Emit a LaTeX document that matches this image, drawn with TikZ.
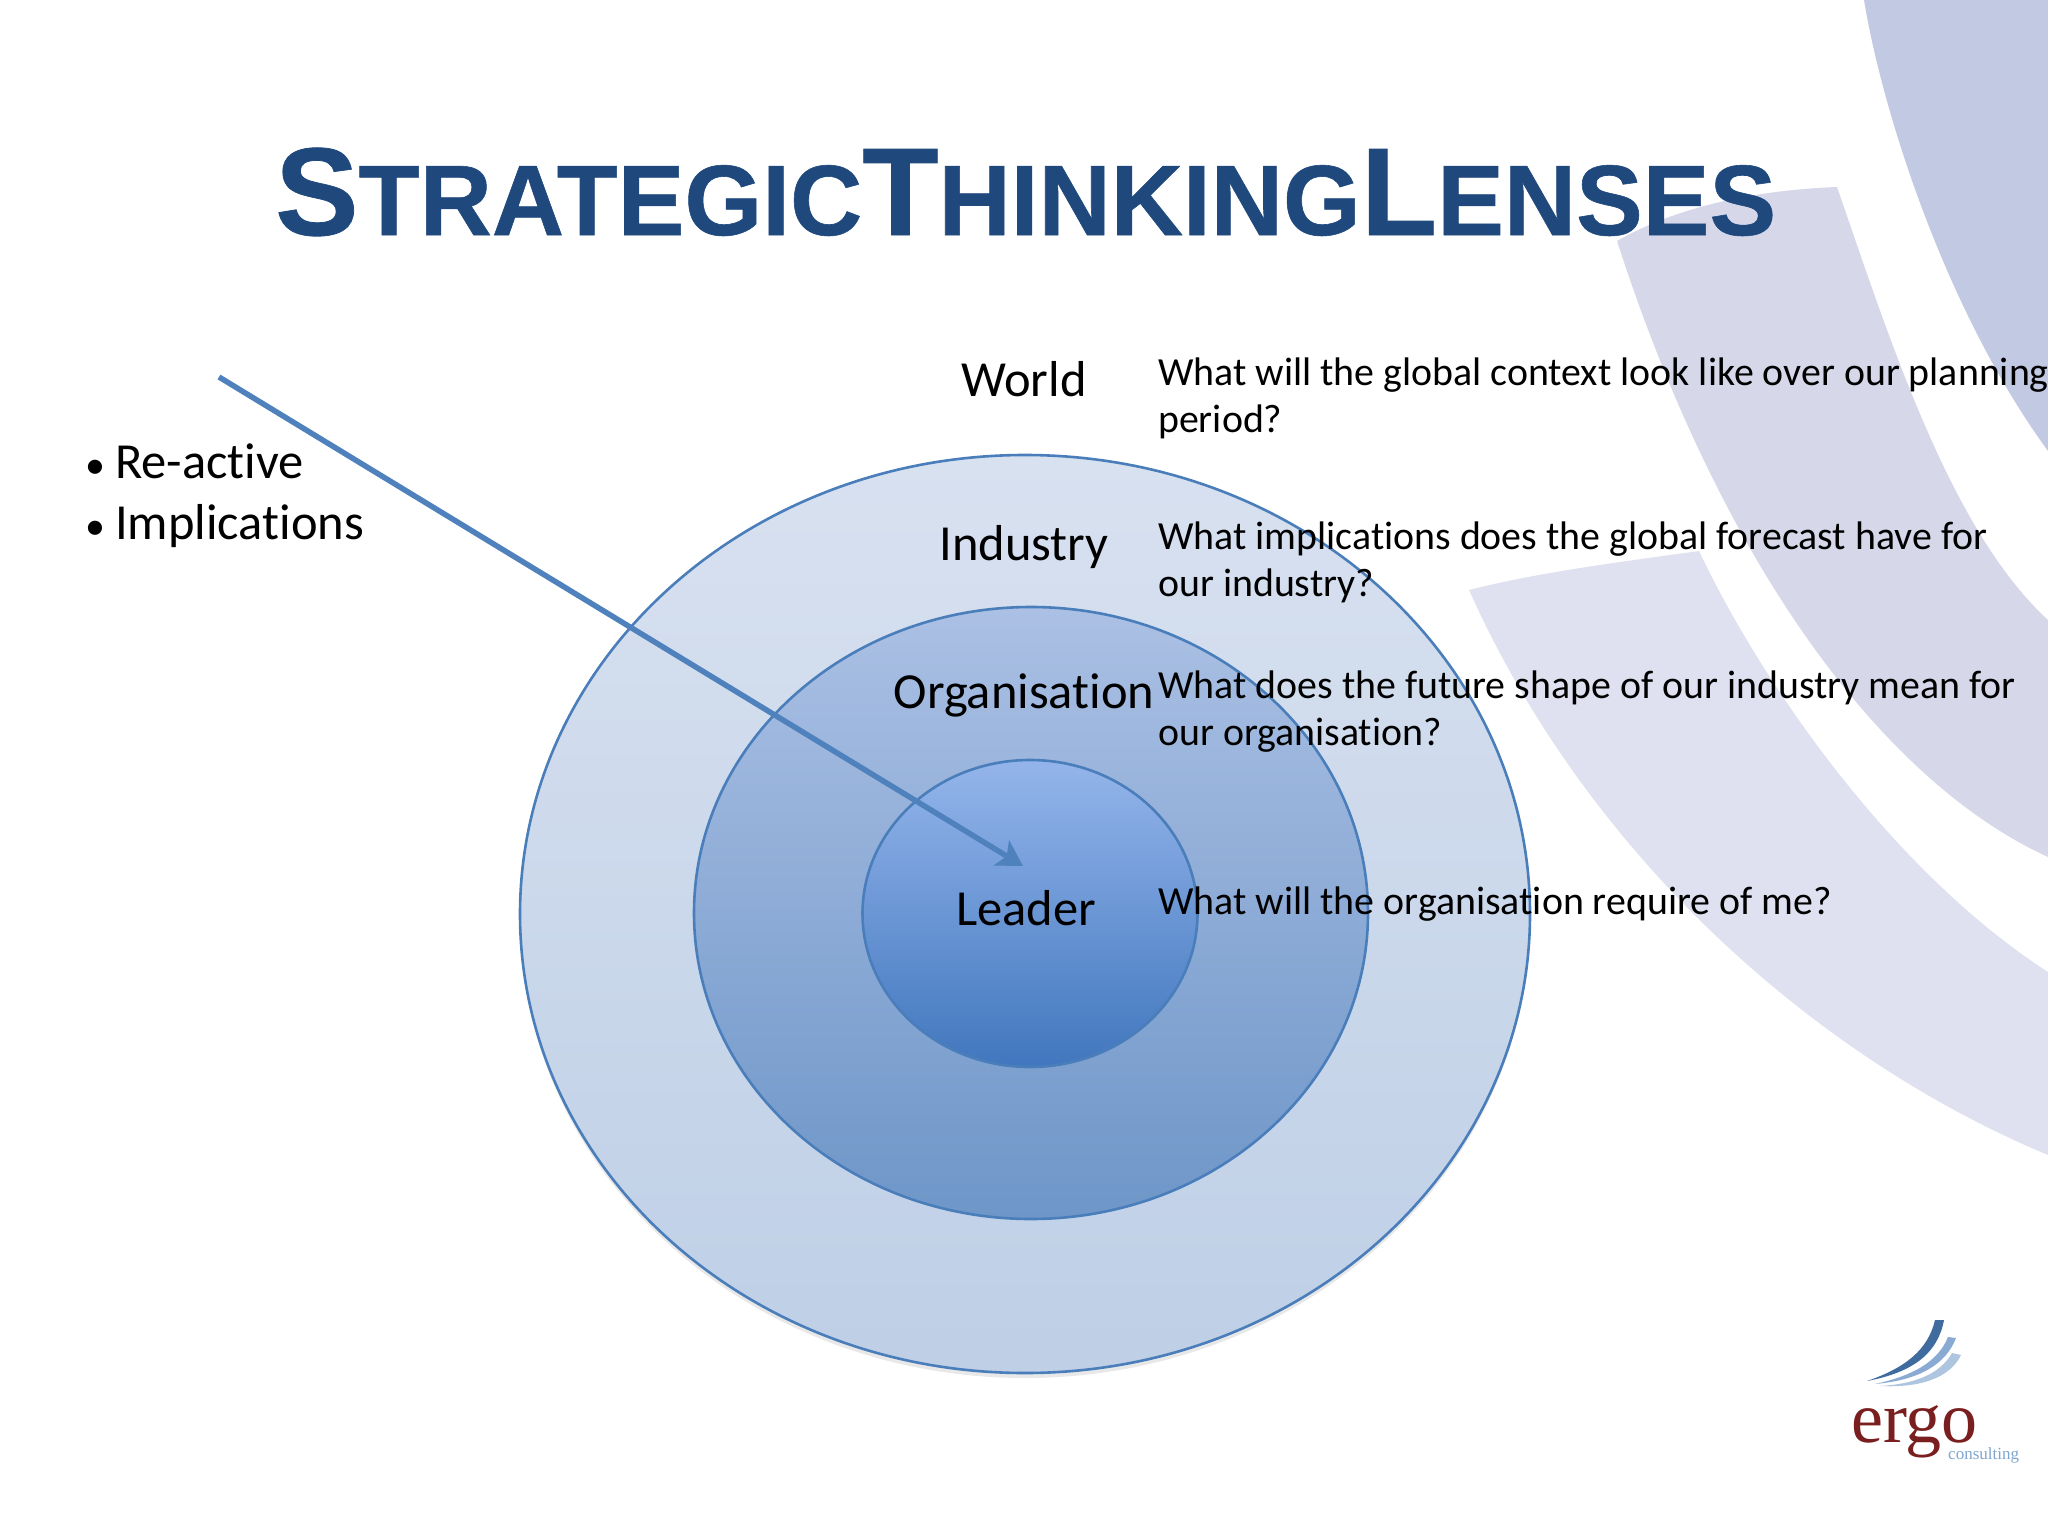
\documentclass[tikz,border=0pt]{standalone}
\usepackage{fontspec}
\setmainfont{Carlito}[Ligatures=CommonOff]
\newfontfamily\titlefont{Liberation Sans}[BoldFont={Liberation Sans Bold},BoldFeatures={FakeBold=0.6}]
\newfontfamily\logofont{Liberation Serif}
\usetikzlibrary{shapes.geometric,arrows.meta}
\definecolor{titleblue}{HTML}{1F497D}
\definecolor{ringline}{HTML}{4A7EBB}
\definecolor{arrowblue}{HTML}{4F81BD}
\definecolor{bandA}{HTML}{C2C9E3}
\definecolor{bandB}{HTML}{D6D8EA}
\definecolor{bandC}{HTML}{E0E1F0}
\definecolor{ergored}{HTML}{7A1F1F}
\definecolor{outertop}{HTML}{D8E1F0}
\definecolor{outerbot}{HTML}{BECFE6}
\definecolor{midtop}{HTML}{ABC0E4}
\definecolor{midbot}{HTML}{6E96C8}
\definecolor{innertop}{HTML}{94B5EB}
\definecolor{innerbot}{HTML}{4177BE}
\newcommand{\twolines}[2]{\vtop{\baselineskip=47pt\hbox{#1}\hbox{#2}}}
\newcommand{\smallbullet}{{\fontsize{40}{58}\selectfont •}}
\tikzset{
  x=1pt,y=-1pt,
  ring/.style={ellipse,draw=ringline,line width=2.6pt,inner sep=0pt,shading angle=0},
  ringshadow/.style={ellipse,fill=black,fill opacity=0.09,inner sep=0pt},
  lens/.style={anchor=base,inner sep=0pt,font=\fontsize{50.5}{58}\selectfont},
  question/.style={anchor=base west,inner sep=0pt,font=\fontsize{39.85}{47}\selectfont},
  bullets/.style={anchor=base west,inner sep=0pt,font=\fontsize{50.5}{58}\selectfont},
}
\begin{document}
\begin{tikzpicture}
\useasboundingbox (0,0) rectangle (2048,1536);
\fill[white] (0,0) rectangle (2048,1536);
% background bands
\fill[bandA] (1864,0) .. controls (1882,110) and (1945,310) .. (2048,451) -- (2048,0) -- cycle;
\fill[bandB] (1617,241) .. controls (1680,205) and (1760,190) .. (1837,187)
  .. controls (1890,340) and (1950,530) .. (2048,620) -- (2048,857)
  .. controls (1880,780) and (1720,560) .. (1617,241) -- cycle;
\fill[bandC] (1469,590) .. controls (1540,572) and (1620,562) .. (1699,551)
  .. controls (1760,680) and (1890,870) .. (2048,972) -- (2048,1155)
  .. controls (1820,1060) and (1590,860) .. (1469,590) -- cycle;
% shadows
\node[ringshadow,minimum width=1010pt,minimum height=918pt] (s1) at (1025,919) {};
\node[ringshadow,minimum width=674pt,minimum height=612pt] (s2) at (1031,918) {};
\node[ringshadow,minimum width=335pt,minimum height=307pt] (s3) at (1030,918) {};
% rings
\node[ring,minimum width=1010pt,minimum height=918pt,top color=outertop,bottom color=outerbot] (world) at (1025,914) {};
\node[ring,minimum width=674pt,minimum height=612pt,top color=midtop,bottom color=midbot] (organisationring) at (1031,913) {};
\node[ring,minimum width=335pt,minimum height=307pt,top color=innertop,bottom color=innerbot] (leaderring) at (1030,913.5) {};
% arrow
\coordinate (arrowstart) at (219,377);
\coordinate (arrowend) at (1023,866);
\draw[arrowblue,line width=5.5pt,-{Stealth[length=25pt,width=29pt,inset=6pt]}] (arrowstart) -- (arrowend);
% title
\node[anchor=base west,inner sep=0pt,text=titleblue,font=\titlefont\bfseries] (title) at (275,235)
  {\fontsize{125}{140}\selectfont S\fontsize{100}{140}\selectfont TRATEGIC\fontsize{125}{140}\selectfont T\fontsize{100}{140}\selectfont HINKING\fontsize{125}{140}\selectfont L\fontsize{100}{140}\selectfont ENSES};
% left bullets
\node[bullets] (b1) at (85,478) {\smallbullet\hspace{10pt}Re-active};
\node[bullets] (b2) at (85,539) {\smallbullet\hspace{10pt}Implications};
% lens labels
\node[lens] (lworld) at (1024,396) {World};
\node[lens] (lindustry) at (1024,560) {Industry};
\node[lens] (lorg) at (1024,708) {Organisation};
\node[lens] (lleader) at (1026,925) {Leader};
% questions
\node[question] (q1) at (1158,385) {\twolines{What will the global context look like over our planning}{period?}};
\node[question] (q2) at (1158,549) {\twolines{What implications does the global forecast have for}{our industry?}};
\node[question] (q3) at (1158,698) {\twolines{What does the future shape of our industry mean for}{our organisation?}};
\node[question] (q4) at (1158,914) {What will the organisation require of me?};
% logo
\fill[ringline!85!black] (1935,1320) -- (1944,1320) .. controls (1938,1352) and (1915,1372) .. (1867,1381) .. controls (1905,1368) and (1928,1350) .. (1935,1320) -- cycle;
\fill[ringline!65!white] (1948,1337) -- (1956,1338) .. controls (1946,1364) and (1920,1380) .. (1875,1384) .. controls (1912,1376) and (1938,1362) .. (1948,1337) -- cycle;
\fill[ringline!45!white] (1952,1353) -- (1961,1355) .. controls (1950,1378) and (1920,1388) .. (1880,1386) .. controls (1915,1384) and (1940,1374) .. (1952,1353) -- cycle;
\node[anchor=base west,inner sep=0pt,text=ergored,font=\logofont\fontsize{72}{80}\selectfont] (ergo) at (1851,1442) {ergo};
\node[anchor=base west,inner sep=0pt,text=ringline!70!white,font=\logofont\fontsize{17}{18}\selectfont] (consulting) at (1948,1459) {consulting};
\end{tikzpicture}
\end{document}
